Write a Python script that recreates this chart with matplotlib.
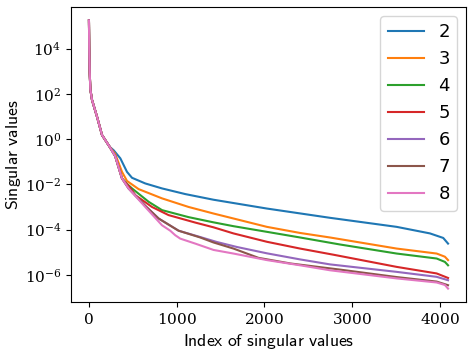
import numpy as np
import matplotlib
matplotlib.use('Agg')
import matplotlib.pyplot as plt

plt.rcParams['mathtext.fontset'] = 'cm'
plt.rcParams['axes.formatter.use_mathtext'] = True
plt.rcParams['font.family'] = 'serif'
plt.rcParams['font.serif'] = ['DejaVu Serif']

# pontos (indice, log10 do valor singular)
head_x = [1, 4, 9, 17, 36, 93, 150, 237]
head_y = [5.25, 4.1, 3.0, 2.2, 1.73, 0.99, 0.18, -0.34]

x2 = [282, 359, 435, 492, 643, 834, 1099, 1421, 2030, 2750, 3510, 3890, 4041, 4096]
y2 = [-0.49, -0.85, -1.45, -1.71, -1.96, -2.18, -2.43, -2.68, -3.07, -3.48, -3.88, -4.17, -4.37, -4.62]

x3 = [300, 378, 435, 567, 834, 1137, 1421, 1649, 2030, 2409, 2750, 3510, 3966, 4060, 4096]
y3 = [-0.65, -1.45, -1.85, -2.21, -2.62, -3.0, -3.29, -3.51, -3.88, -4.15, -4.35, -4.84, -5.06, -5.2, -5.35]

x4 = [300, 378, 435, 492, 681, 834, 1137, 1421, 1649, 2030, 2409, 2864, 3510, 3966, 4060, 4096]
y4 = [-0.75, -1.74, -1.98, -2.18, -2.77, -3.14, -3.45, -3.68, -3.85, -4.10, -4.35, -4.66, -5.06, -5.28, -5.43, -5.58]

x5 = [300, 378, 480, 530, 720, 909, 1213, 1421, 1649, 2030, 2409, 2800, 3510, 3966, 4096]
y5 = [-0.75, -1.74, -2.2, -2.48, -3.0, -3.36, -3.69, -3.9, -4.17, -4.54, -4.84, -5.12, -5.65, -5.94, -6.14]

x6 = [300, 378, 453, 643, 795, 1023, 1270, 1460, 1688, 2030, 2409, 2750, 3510, 3966, 4096]
y6 = [-0.75, -1.74, -2.18, -2.95, -3.51, -4.05, -4.33, -4.55, -4.77, -5.05, -5.32, -5.54, -5.87, -6.09, -6.24]

x7 = [300, 378, 453, 643, 795, 1023, 1270, 1421, 1649, 1934, 2300, 2864, 3510, 3966, 4096]
y7 = [-0.75, -1.74, -2.18, -2.95, -3.51, -4.05, -4.35, -4.57, -4.84, -5.25, -5.50, -5.77, -6.10, -6.30, -6.46]

x8 = [300, 378, 453, 643, 834, 928, 985, 1042, 1213, 1421, 1649, 2030, 2409, 2750, 3510, 3966, 4060, 4096]
y8 = [-0.75, -1.74, -2.18, -3.0, -3.81, -4.05, -4.25, -4.40, -4.62, -4.9, -5.06, -5.35, -5.58, -5.80, -6.16, -6.34, -6.45, -6.61]

rotulos = ['2', '3', '4', '5', '6', '7', '8']
series_x = [x2, x3, x4, x5, x6, x7, x8]
series_y = [y2, y3, y4, y5, y6, y7, y8]

fig = plt.figure(figsize=(4.74, 3.56), dpi=100)
ax = fig.add_subplot(111)
fig.subplots_adjust(left=71/474, right=466/474, top=1-7/356, bottom=1-302/356)

for rot, xs, ys in zip(rotulos, series_x, series_y):
    xx = np.array(head_x + xs)
    yy = 10.0 ** np.array(head_y + ys)
    ax.plot(xx, yy, linewidth=1.5, label=rot)

ax.set_yscale('log')
ax.set_yticks([1e4, 1e2, 1e0, 1e-2, 1e-4, 1e-6])
ax.minorticks_off()
ax.tick_params(labelsize=11)
ax.set_xlabel(r'$\mathsf{Index\ of\ singular\ values}$', fontsize=12.7)
ax.set_ylabel(r'$\mathsf{Singular\ values}$', fontsize=12.7, labelpad=1)
ax.legend(loc='upper right', prop={'family': 'DejaVu Sans', 'size': 13})

plt.savefig('out.png')
